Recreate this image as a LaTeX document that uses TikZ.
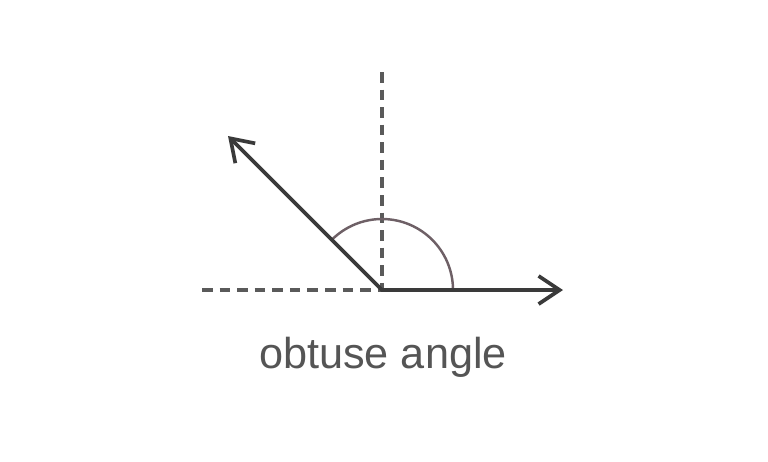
\documentclass[tikz,border=0pt]{standalone}
\usepackage{fontspec}
\setmainfont{Liberation Sans}
\usetikzlibrary{arrows.meta,calc}
\definecolor{raygray}{HTML}{3A3A3A}
\definecolor{dashgray}{HTML}{5A5A5A}
\definecolor{arcgray}{HTML}{6E6066}
\definecolor{textgray}{HTML}{555555}
\tikzstyle{ray} = [draw=raygray, line width=1.05pt, line cap=round,
    -{Straight Barb[length=6pt,width=8pt,line width=1.05pt]}]
\tikzstyle{guide} = [draw=dashgray, line width=1.1pt, dash pattern=on 3pt off 2pt]
\tikzstyle{anglearc} = [draw=arcgray, line width=0.7pt]
\tikzstyle{caption} = [text=textgray, font=\fontsize{12.3}{15}\selectfont]

\begin{document}
\begin{tikzpicture}
    \useasboundingbox (0,0) rectangle (7.68,4.61);
    % Place nodes
    \coordinate (vertex) at (3.82,1.71);
    \coordinate (guidetop) at (3.82,3.89);
    \coordinate (guideleft) at (2.02,1.71);
    \coordinate (rightend) at (5.63,1.71);
    \coordinate (leftend) at (2.28,3.25);
    \node [caption] (label) at (3.83,1.04) {obtuse angle};
    % Draw edges
    \path [guide] (guidetop) -- (vertex);
    \path [guide] (guideleft) -- (vertex);
    \path [anglearc] ($(vertex)+(0.71,0)$) arc [start angle=0, end angle=135, radius=0.71];
    \path [ray] (vertex) -- (rightend);
    \path [ray] (vertex) -- (leftend);
\end{tikzpicture}
\end{document}
